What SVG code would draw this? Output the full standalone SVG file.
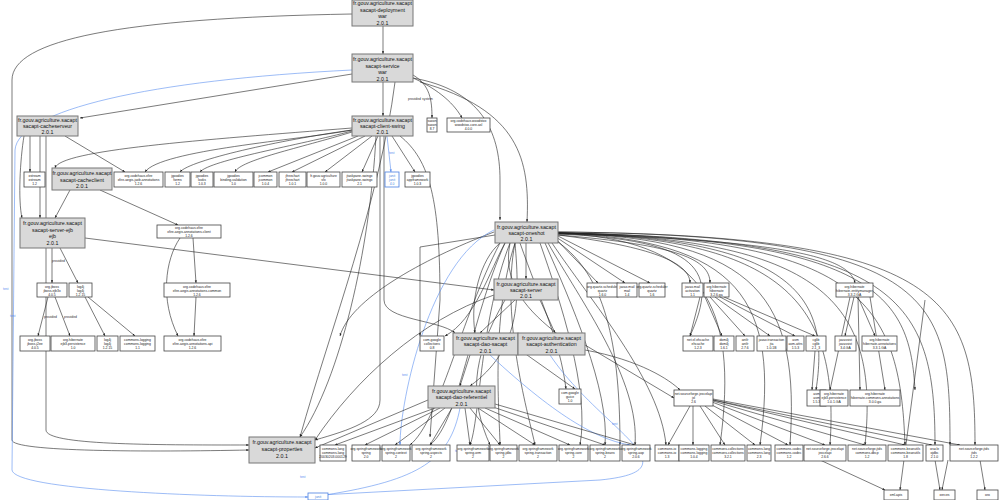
<svg xmlns="http://www.w3.org/2000/svg" width="1000" height="500" viewBox="0 0 1000 500">
<style>
.g rect{fill:#d9d9d9;stroke:#777;stroke-width:1}
.w rect{fill:#fff;stroke:#444;stroke-width:.8}
.b rect{fill:#fff;stroke:#4a7fe0;stroke-width:.8}
.g text{font-family:"Liberation Sans",Arial,sans-serif;font-size:5.3px;text-anchor:middle;fill:#111}
.w text,.b text{font-family:"Liberation Sans",Arial,sans-serif;font-size:3.4px;text-anchor:middle;fill:#222}
.b text{fill:#4a7fe0}
#edges path{fill:none;stroke:#222;stroke-width:.6;marker-end:url(#a)}
#edges path.t{stroke:#5a8ef0;marker-end:url(#ab)}
.lbl{font-family:"Liberation Sans",Arial,sans-serif;font-size:3.4px;fill:#333}
.lb{font-family:"Liberation Sans",Arial,sans-serif;font-size:3.4px;fill:#5a8ef0}
</style>
<defs>
<marker id="a" viewBox="0 0 10 10" refX="10" refY="5" markerWidth="4.5" markerHeight="4.5" orient="auto"><path d="M0,1L10,5L0,9z" fill="#222"/></marker>
<marker id="ab" viewBox="0 0 10 10" refX="10" refY="5" markerWidth="4.5" markerHeight="4.5" orient="auto"><path d="M0,1L10,5L0,9z" fill="#5a8ef0"/></marker>
</defs>
<rect width="1000" height="500" fill="#fff"/>
<g id="edges">
<path d="M383,26L383,54"/>
<path d="M352,14C120,18 12,40 12,80L12,440C12,452 150,452 249,450"/>
<path class="t" d="M352,70C150,80 18,110 15,150L12,470C14,490 200,497 308,497"/>
<path d="M352,74L80,118"/>
<path d="M383,82L383,116"/>
<path d="M395,82C380,200 330,330 300,437"/>
<path d="M420,82C520,110 530,160 527,222"/>
<path d="M413,75C430,85 432,100 432,118"/>
<path d="M413,78C440,90 455,105 462,118"/>
<path d="M413,78C480,90 500,130 500,180L500,220"/>
<path d="M30,136L30,172"/>
<path d="M40,136L40,218"/>
<path d="M24,136C20,160 18,200 22,218"/>
<path d="M46,136L46,430C46,445 150,445 249,445"/>
<path d="M65,136L125,172"/>
<path d="M352,128C200,140 60,150 55,168"/>
<path d="M352,130C300,140 160,150 145,172"/>
<path d="M352,130C280,140 190,160 180,172"/>
<path d="M352,131C300,145 210,160 200,172"/>
<path d="M352,132C300,148 240,160 235,172"/>
<path d="M358,136L268,172"/>
<path d="M365,136L292,172"/>
<path d="M372,136L325,172"/>
<path d="M378,136L362,172"/>
<path class="t" d="M387,136L391,172"/>
<path d="M392,136L415,172"/>
<path d="M400,136C430,160 440,200 440,300L430,437"/>
<path d="M380,136L380,400C380,420 350,430 315,440"/>
<path d="M384,136L384,300C384,320 440,320 455,333"/>
<path d="M376,136C370,250 340,380 300,437"/>
<path d="M70,190L55,218"/>
<path d="M100,190L178,225"/>
<path d="M85,238L494,290"/>
<path d="M52,248L52,283"/>
<path d="M60,248L78,283"/>
<path d="M48,297L38,336"/>
<path d="M55,297L70,336"/>
<path d="M85,297L105,336"/>
<path d="M88,297L135,336"/>
<path d="M180,238C165,260 160,300 178,336"/>
<path d="M193,238L196,283"/>
<path d="M196,297L194,336"/>
<path d="M526,243L526,279"/>
<path d="M495,235L420,247L420,336"/>
<path d="M500,243C480,260 470,300 475,333"/>
<path d="M505,243C490,270 475,320 445,336"/>
<path d="M510,243C500,290 540,320 560,336"/>
<path d="M515,243C520,300 520,350 470,386"/>
<path d="M520,243C540,300 560,340 566,389"/>
<path d="M540,243C560,300 590,390 580,445"/>
<path d="M545,243C570,300 610,390 605,445"/>
<path d="M548,243C580,300 640,380 635,445"/>
<path d="M552,243C590,300 660,380 666,445"/>
<path d="M555,240C600,270 620,330 620,445"/>
<path d="M555,238L598,283"/>
<path d="M556,237L625,283"/>
<path d="M558,236L650,283"/>
<path d="M558,235C640,245 690,260 690,283"/>
<path d="M558,235C680,245 710,260 710,283"/>
<path d="M558,234C700,240 720,270 690,336"/>
<path d="M558,234C800,240 850,260 855,283"/>
<path d="M558,233C700,240 740,300 720,445"/>
<path d="M558,233C740,240 780,300 760,445"/>
<path d="M558,233C760,238 800,300 790,445"/>
<path d="M558,233C780,238 840,300 830,445"/>
<path d="M558,233C820,238 880,300 865,445"/>
<path d="M558,233C860,238 900,300 905,445"/>
<path d="M558,233C880,238 910,300 915,390"/>
<path d="M558,233C900,238 935,300 935,445"/>
<path d="M558,232C950,235 975,300 975,445"/>
<path d="M558,232C940,235 950,300 950,445"/>
<path d="M558,233C800,238 830,300 816,390"/>
<path d="M500,243C460,320 440,420 410,445"/>
<path d="M505,243C470,320 460,420 430,445"/>
<path d="M510,243C480,320 480,420 470,445"/>
<path d="M515,243C490,320 500,420 500,445"/>
<path d="M515,243C500,320 530,420 535,445"/>
<path d="M494,232C420,260 350,300 340,336"/>
<path class="t" d="M494,230C430,260 400,400 400,445"/>
<path d="M515,300L480,333"/>
<path d="M540,300L555,333"/>
<path d="M494,295C420,320 355,380 315,440"/>
<path d="M505,300C470,360 470,400 490,445"/>
<path d="M470,355L460,386"/>
<path d="M520,350L575,389"/>
<path d="M585,350C640,360 670,380 680,390"/>
<path class="t" d="M490,355C560,420 600,440 630,445"/>
<path class="t" d="M550,355C600,430 700,470 600,480L320,495"/>
<path d="M428,400L315,448"/>
<path d="M435,408L335,445"/>
<path d="M440,408L365,445"/>
<path d="M445,408L395,445"/>
<path d="M452,408L430,445"/>
<path d="M465,408L470,445"/>
<path d="M470,408L500,445"/>
<path d="M478,408L535,445"/>
<path d="M485,408L570,445"/>
<path d="M490,406L605,445"/>
<path d="M495,404L635,445"/>
<path class="t" d="M460,408C450,460 420,480 325,495"/>
<path d="M700,297L690,336"/>
<path d="M705,297L722,336"/>
<path d="M710,297L745,336"/>
<path d="M715,297L770,336"/>
<path d="M720,297L795,336"/>
<path d="M724,297L815,336"/>
<path d="M854,297L845,336"/>
<path d="M858,297L875,336"/>
<path d="M815,351L812,390"/>
<path d="M858,297L860,390"/>
<path d="M870,297L885,390"/>
<path d="M850,297L830,390"/>
<path d="M690,406L668,445"/>
<path d="M693,406L693,445"/>
<path d="M700,406L725,445"/>
<path d="M705,406L755,445"/>
<path d="M710,404L788,445"/>
<path d="M712,402L825,445"/>
<path d="M713,401L865,445"/>
<path d="M713,400L905,445"/>
<path d="M713,400L932,445"/>
<path d="M713,399L960,445"/>
<path d="M585,345L674,398"/>
<path d="M820,460L885,490"/>
<path d="M935,460L940,490"/>
<path d="M948,460L942,490"/>
<path d="M980,460L985,490"/>
<path d="M925,300L900,490"/>
</g>
<text class="lbl" x="408" y="100">provided</text>
<text class="lbl" x="422" y="100">system</text>
<text class="lbl" x="52" y="262">provided</text>
<text class="lbl" x="44" y="318">provided</text>
<text class="lbl" x="64" y="318">provided</text>
<text class="lb" x="389" y="154">test</text>
<text class="lb" x="3" y="290">test</text>
<text class="lb" x="10" y="317">test</text>
<text class="lb" x="402" y="376">test</text>
<text class="lb" x="455" y="452">test</text>
<text class="lb" x="612" y="425">test</text>
<text class="lb" x="300" y="478">test</text>
<g id="n-deployment" class="g"><rect x="352" y="0" width="61" height="26"/><text x="382.5" y="5">fr.gouv.agriculture.sacapt</text><text x="382.5" y="11.5">sacapt-deployment</text><text x="382.5" y="18">war</text><text x="382.5" y="24.5">2.0.1</text></g>
<g id="n-service" class="g"><rect x="352" y="54" width="61" height="28"/><text x="382.5" y="61">fr.gouv.agriculture.sacapt</text><text x="382.5" y="67.5">sacapt-service</text><text x="382.5" y="74">war</text><text x="382.5" y="80.5">2.0.1</text></g>
<g id="n-cacheserveur" class="g"><rect x="17" y="116" width="61" height="20"/><text x="47.5" y="122">fr.gouv.agriculture.sacapt</text><text x="47.5" y="128">sacapt-cacheserveur</text><text x="47.5" y="134">2.0.1</text></g>
<g id="n-clientswing" class="g"><rect x="352" y="116" width="61" height="20"/><text x="382.5" y="122">fr.gouv.agriculture.sacapt</text><text x="382.5" y="128">sacapt-client-swing</text><text x="382.5" y="134">2.0.1</text></g>
<g id="n-cacheclient" class="g"><rect x="52" y="168" width="60" height="22"/><text x="82" y="175">fr.gouv.agriculture.sacapt</text><text x="82" y="181.5">sacapt-cacheclient</text><text x="82" y="188">2.0.1</text></g>
<g id="n-serverejb" class="g"><rect x="20" y="218" width="65" height="30"/><text x="52.5" y="225">fr.gouv.agriculture.sacapt</text><text x="52.5" y="231.5">sacapt-server-ejb</text><text x="52.5" y="238">ejb</text><text x="52.5" y="244.5">2.0.1</text></g>
<g id="n-oneshot" class="g"><rect x="495" y="222" width="63" height="21"/><text x="526.5" y="228.5">fr.gouv.agriculture.sacapt</text><text x="526.5" y="235">sacapt-oneshot</text><text x="526.5" y="241">2.0.1</text></g>
<g id="n-server" class="g"><rect x="494" y="279" width="64" height="21"/><text x="526" y="285.5">fr.gouv.agriculture.sacapt</text><text x="526" y="292">sacapt-server</text><text x="526" y="298">2.0.1</text></g>
<g id="n-daosacapt" class="g"><rect x="453" y="333" width="65" height="22"/><text x="485.5" y="339.5">fr.gouv.agriculture.sacapt</text><text x="485.5" y="346">sacapt-dao-sacapt</text><text x="485.5" y="352.5">2.0.1</text></g>
<g id="n-auth" class="g"><rect x="518" y="333" width="67" height="22"/><text x="551.5" y="339.5">fr.gouv.agriculture.sacapt</text><text x="551.5" y="346">sacapt-authentication</text><text x="551.5" y="352.5">2.0.1</text></g>
<g id="n-daoref" class="g"><rect x="428" y="386" width="67" height="22"/><text x="461.5" y="392.5">fr.gouv.agriculture.sacapt</text><text x="461.5" y="399">sacapt-dao-referentiel</text><text x="461.5" y="405.5">2.0.1</text></g>
<g id="n-properties" class="g"><rect x="249" y="437" width="66" height="26"/><text x="282" y="444">fr.gouv.agriculture.sacapt</text><text x="282" y="451">sacapt-properties</text><text x="282" y="458">2.0.1</text></g>
<g id="n-w1" class="w"><rect x="427" y="118" width="10" height="14"/><text x="432" y="122">saxon</text><text x="432" y="126">saxon</text><text x="432" y="130">8.7</text></g>
<g id="n-w2" class="w"><rect x="447" y="118" width="43" height="14"/><text x="468.5" y="122">org.codehaus.woodstox</text><text x="468.5" y="126">woodstox-core-asl</text><text x="468.5" y="130">4.0.0</text></g>
<g id="n-w3" class="w"><rect x="24" y="172" width="21" height="15"/><text x="34.5" y="177">xstream</text><text x="34.5" y="181">xstream</text><text x="34.5" y="185">1.2</text></g>
<g id="n-w4" class="w"><rect x="114" y="172" width="49" height="15"/><text x="138.5" y="177">org.codehaus.xfire</text><text x="138.5" y="181">xfire-aegis-jaxb-annotations</text><text x="138.5" y="185">1.2.6</text></g>
<g id="n-w5" class="w"><rect x="165" y="172" width="25" height="15"/><text x="177.5" y="177">jgoodies</text><text x="177.5" y="181">forms</text><text x="177.5" y="185">1.2</text></g>
<g id="n-w6" class="w"><rect x="191" y="172" width="22" height="15"/><text x="202" y="177">jgoodies</text><text x="202" y="181">looks</text><text x="202" y="185">1.0.3</text></g>
<g id="n-w7" class="w"><rect x="214" y="172" width="39" height="15"/><text x="233.5" y="177">jgoodies</text><text x="233.5" y="181">binding-validation</text><text x="233.5" y="185">1.0</text></g>
<g id="n-w8" class="w"><rect x="254" y="172" width="23" height="15"/><text x="265.5" y="177">jcommon</text><text x="265.5" y="181">jcommon</text><text x="265.5" y="185">1.0.4</text></g>
<g id="n-w9" class="w"><rect x="279" y="172" width="27" height="15"/><text x="292.5" y="177">jfreechart</text><text x="292.5" y="181">jfreechart</text><text x="292.5" y="185">1.0.1</text></g>
<g id="n-w10" class="w"><rect x="307" y="172" width="33" height="15"/><text x="323.5" y="177">fr.gouv.agriculture</text><text x="323.5" y="181">sfx</text><text x="323.5" y="185">1.0.0</text></g>
<g id="n-w11" class="w"><rect x="342" y="172" width="35" height="15"/><text x="359.5" y="177">jtaskpane-swingx</text><text x="359.5" y="181">jtaskpane-swingx</text><text x="359.5" y="185">2.1</text></g>
<g id="n-b1" class="b"><rect x="385" y="172" width="14" height="15"/><text x="392" y="177">junit</text><text x="392" y="181">junit</text><text x="392" y="185">4.0</text></g>
<g id="n-w12" class="w"><rect x="405" y="172" width="25" height="15"/><text x="417.5" y="177">jgoodies</text><text x="417.5" y="181">appframework</text><text x="417.5" y="185">1.0.3</text></g>
<g id="n-w13" class="w"><rect x="157" y="225" width="64" height="13"/><text x="189" y="229">org.codehaus.xfire</text><text x="189" y="233">xfire-aegis-annotations-client</text><text x="189" y="237">1.2.6</text></g>
<g id="n-w14" class="w"><rect x="37" y="283" width="30" height="14"/><text x="52" y="287.5">org.jboss</text><text x="52" y="291.5">jboss-ejb3x</text><text x="52" y="295.5">4.0.5</text></g>
<g id="n-w15" class="w"><rect x="69" y="283" width="23" height="14"/><text x="80.5" y="287.5">log4j</text><text x="80.5" y="291.5">log4j</text><text x="80.5" y="295.5">1.2.15</text></g>
<g id="n-w16" class="w"><rect x="164" y="283" width="66" height="14"/><text x="197" y="287.5">org.codehaus.xfire</text><text x="197" y="291.5">xfire-aegis-annotations-common</text><text x="197" y="295.5">1.2.6</text></g>
<g id="n-w17" class="w"><rect x="20" y="336" width="30" height="15"/><text x="35" y="341">org.jboss</text><text x="35" y="345">jboss-j2ee</text><text x="35" y="349">4.0.5</text></g>
<g id="n-w18" class="w"><rect x="51" y="336" width="44" height="15"/><text x="73" y="341">org.hibernate</text><text x="73" y="345">ejb3-persistence</text><text x="73" y="349">1.0</text></g>
<g id="n-w19" class="w"><rect x="97" y="336" width="21" height="15"/><text x="107.5" y="341">log4j</text><text x="107.5" y="345">log4j</text><text x="107.5" y="349">1.2.15</text></g>
<g id="n-w20" class="w"><rect x="120" y="336" width="35" height="15"/><text x="137.5" y="341">commons-logging</text><text x="137.5" y="345">commons-logging</text><text x="137.5" y="349">1.1</text></g>
<g id="n-w21" class="w"><rect x="164" y="336" width="57" height="15"/><text x="192.5" y="341">org.codehaus.xfire</text><text x="192.5" y="345">xfire-aegis-annotations-api</text><text x="192.5" y="349">1.2.6</text></g>
<g id="n-w22" class="w"><rect x="420" y="336" width="24" height="15"/><text x="432" y="341">com.google</text><text x="432" y="345">collections</text><text x="432" y="349">0.8</text></g>
<g id="n-w23" class="w"><rect x="559" y="389" width="22" height="15"/><text x="570" y="394">com.google</text><text x="570" y="398">guice</text><text x="570" y="402">1.0</text></g>
<g id="n-w24" class="w"><rect x="587" y="283" width="31" height="14"/><text x="602.5" y="287.5">org.quartz-scheduler</text><text x="602.5" y="291.5">quartz</text><text x="602.5" y="295.5">1.6.0</text></g>
<g id="n-w25" class="w"><rect x="617" y="283" width="20" height="14"/><text x="627" y="287.5">javax.mail</text><text x="627" y="291.5">mail</text><text x="627" y="295.5">1.4</text></g>
<g id="n-w26" class="w"><rect x="639" y="283" width="26" height="14"/><text x="652" y="287.5">org.quartz-scheduler</text><text x="652" y="291.5">quartz</text><text x="652" y="295.5">1.6</text></g>
<g id="n-w27" class="w"><rect x="682" y="283" width="21" height="14"/><text x="692.5" y="287.5">javax.mail</text><text x="692.5" y="291.5">activation</text><text x="692.5" y="295.5">1.1</text></g>
<g id="n-w28" class="w"><rect x="704" y="283" width="25" height="14"/><text x="716.5" y="287.5">org.hibernate</text><text x="716.5" y="291.5">hibernate</text><text x="716.5" y="295.5">3.2.6.ga</text></g>
<g id="n-w29" class="w"><rect x="836" y="283" width="37" height="14"/><text x="854.5" y="287.5">org.hibernate</text><text x="854.5" y="291.5">hibernate-entitymanager</text><text x="854.5" y="295.5">3.3.2.GA</text></g>
<g id="n-w30" class="w"><rect x="683" y="336" width="30" height="15"/><text x="698" y="341">net.sf.ehcache</text><text x="698" y="345">ehcache</text><text x="698" y="349">1.2.3</text></g>
<g id="n-w31" class="w"><rect x="714" y="336" width="20" height="15"/><text x="724" y="341">dom4j</text><text x="724" y="345">dom4j</text><text x="724" y="349">1.6.1</text></g>
<g id="n-w32" class="w"><rect x="736" y="336" width="18" height="15"/><text x="745" y="341">antlr</text><text x="745" y="345">antlr</text><text x="745" y="349">2.7.6</text></g>
<g id="n-w33" class="w"><rect x="757" y="336" width="29" height="15"/><text x="771.5" y="341">javax.transaction</text><text x="771.5" y="345">jta</text><text x="771.5" y="349">1.0.1B</text></g>
<g id="n-w34" class="w"><rect x="787" y="336" width="17" height="15"/><text x="795.5" y="341">asm</text><text x="795.5" y="345">asm-attrs</text><text x="795.5" y="349">1.5.3</text></g>
<g id="n-w35" class="w"><rect x="806" y="336" width="20" height="15"/><text x="816" y="341">cglib</text><text x="816" y="345">cglib</text><text x="816" y="349">2.1_3</text></g>
<g id="n-w36" class="w"><rect x="835" y="336" width="21" height="15"/><text x="845.5" y="341">javassist</text><text x="845.5" y="345">javassist</text><text x="845.5" y="349">3.4.GA</text></g>
<g id="n-w37" class="w"><rect x="862" y="336" width="35" height="15"/><text x="879.5" y="341">org.hibernate</text><text x="879.5" y="345">hibernate-annotations</text><text x="879.5" y="349">3.3.1.GA</text></g>
<g id="n-w38" class="w"><rect x="674" y="390" width="39" height="16"/><text x="693.5" y="395">net.sourceforge.jexcelapi</text><text x="693.5" y="399">jxl</text><text x="693.5" y="403">2.6</text></g>
<g id="n-w39" class="w"><rect x="807" y="390" width="19" height="16"/><text x="816.5" y="395">asm</text><text x="816.5" y="399">asm</text><text x="816.5" y="403">1.5.3</text></g>
<g id="n-w40" class="w"><rect x="820" y="390" width="28" height="16"/><text x="834" y="395">org.hibernate</text><text x="834" y="399">ejb3-persistence</text><text x="834" y="403">1.0.1.GA</text></g>
<g id="n-w41" class="w"><rect x="850" y="390" width="50" height="16"/><text x="875" y="395">org.hibernate</text><text x="875" y="399">hibernate-commons-annotations</text><text x="875" y="403">3.0.0.ga</text></g>
<g id="n-w42" class="w"><rect x="320" y="445" width="26" height="16"/><text x="333" y="450">commons-lang</text><text x="333" y="454">commons-lang</text><text x="333" y="458">20030203.000129</text></g>
<g id="n-w43" class="w"><rect x="352" y="445" width="28" height="16"/><text x="366" y="450">org.springframework</text><text x="366" y="454">spring</text><text x="366" y="458">2.0</text></g>
<g id="n-w44" class="w"><rect x="382" y="445" width="28" height="16"/><text x="396" y="450">org.springframework</text><text x="396" y="454">spring-context</text><text x="396" y="458">2</text></g>
<g id="n-w45" class="w"><rect x="412" y="445" width="38" height="16"/><text x="431" y="450">org.springframework</text><text x="431" y="454">spring-aspects</text><text x="431" y="458">2</text></g>
<g id="n-w46" class="w"><rect x="457" y="445" width="32" height="16"/><text x="473" y="450">org.springframework</text><text x="473" y="454">spring-orm</text><text x="473" y="458">2</text></g>
<g id="n-w47" class="w"><rect x="490" y="445" width="27" height="16"/><text x="503.5" y="450">org.springframework</text><text x="503.5" y="454">spring-jdbc</text><text x="503.5" y="458">2</text></g>
<g id="n-w48" class="w"><rect x="519" y="445" width="38" height="16"/><text x="538" y="450">org.springframework</text><text x="538" y="454">spring-transaction</text><text x="538" y="458">2</text></g>
<g id="n-w49" class="w"><rect x="559" y="445" width="29" height="16"/><text x="573.5" y="450">org.springframework</text><text x="573.5" y="454">spring-core</text><text x="573.5" y="458">2</text></g>
<g id="n-w50" class="w"><rect x="590" y="445" width="30" height="16"/><text x="605" y="450">org.springframework</text><text x="605" y="454">spring-beans</text><text x="605" y="458">2</text></g>
<g id="n-w51" class="w"><rect x="622" y="445" width="28" height="16"/><text x="636" y="450">org.springframework</text><text x="636" y="454">spring-aop</text><text x="636" y="458">2.0.6</text></g>
<g id="n-w52" class="w"><rect x="655" y="445" width="24" height="16"/><text x="667" y="450">commons-io</text><text x="667" y="454">commons-io</text><text x="667" y="458">1.3</text></g>
<g id="n-w53" class="w"><rect x="679" y="445" width="30" height="16"/><text x="694" y="450">commons-logging</text><text x="694" y="454">commons-logging</text><text x="694" y="458">1.0.4</text></g>
<g id="n-w54" class="w"><rect x="711" y="445" width="34" height="16"/><text x="728" y="450">commons-collections</text><text x="728" y="454">commons-collections</text><text x="728" y="458">3.2.1</text></g>
<g id="n-w55" class="w"><rect x="747" y="445" width="24" height="16"/><text x="759" y="450">commons-lang</text><text x="759" y="454">commons-lang</text><text x="759" y="458">2.3</text></g>
<g id="n-w56" class="w"><rect x="775" y="445" width="28" height="16"/><text x="789" y="450">commons-codec</text><text x="789" y="454">commons-codec</text><text x="789" y="458">1.2</text></g>
<g id="n-w57" class="w"><rect x="804" y="445" width="42" height="16"/><text x="825" y="450">net.sourceforge.jexcelapi</text><text x="825" y="454">jexcelapi</text><text x="825" y="458">2.6.6</text></g>
<g id="n-w58" class="w"><rect x="848" y="445" width="38" height="16"/><text x="867" y="450">net.sourceforge.jtds</text><text x="867" y="454">commons-dbcp</text><text x="867" y="458">1.2</text></g>
<g id="n-w59" class="w"><rect x="888" y="445" width="35" height="16"/><text x="905.5" y="450">commons-beanutils</text><text x="905.5" y="454">commons-beanutils</text><text x="905.5" y="458">1.8</text></g>
<g id="n-w60" class="w"><rect x="926" y="445" width="17" height="16"/><text x="934.5" y="450">oracle</text><text x="934.5" y="454">ojdbc</text><text x="934.5" y="458">2.1.0</text></g>
<g id="n-w61" class="w"><rect x="950" y="445" width="48" height="16"/><text x="974" y="450">net.sourceforge.jtds</text><text x="974" y="454">jtds</text><text x="974" y="458">1.2.2</text></g>
<g id="n-b2" class="b"><rect x="308" y="493" width="20" height="7"/><text x="318" y="498">junit</text></g>
<g id="n-w62" class="w"><rect x="884" y="490" width="24" height="10"/><text x="896" y="496">xml-apis</text></g>
<g id="n-w63" class="w"><rect x="934" y="490" width="21" height="10"/><text x="944.5" y="496">xerces</text></g>
<g id="n-w64" class="w"><rect x="977" y="490" width="21" height="10"/><text x="987.5" y="496">oro</text></g>
</svg>
